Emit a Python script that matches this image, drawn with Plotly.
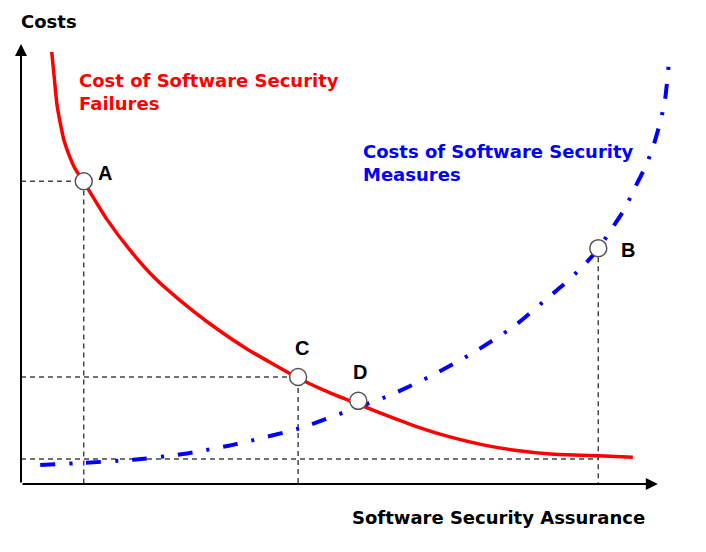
import plotly.graph_objects as go

# Кривая затрат на сбои безопасности ПО (красная)
fail_x = [0.48, 0.52, 0.56, 0.61, 0.67, 0.75, 0.84, 1.00, 1.34, 1.70, 2.09, 2.48, 3.00,
          3.53, 4.33, 4.83, 5.38, 5.66, 6.19, 6.70, 7.22, 7.75, 8.27, 9.02, 9.56]
fail_y = [9.82, 9.23, 8.64, 8.23, 7.82, 7.48, 7.18, 6.82, 6.02, 5.32, 4.68, 4.18, 3.59,
          3.07, 2.41, 2.07, 1.75, 1.59, 1.30, 1.07, 0.89, 0.76, 0.68, 0.64, 0.61]

# Кривая затрат на меры безопасности ПО (синяя)
meas_x = [0.30, 0.97, 1.75, 2.53, 3.31, 4.36, 5.27, 5.77, 6.44, 7.06, 7.69, 8.23,
          8.47, 8.78, 9.02, 9.23, 9.44, 9.59, 9.77, 9.88, 9.98, 10.06, 10.12]
meas_y = [0.43, 0.48, 0.55, 0.68, 0.89, 1.27, 1.75, 2.02, 2.48, 2.98, 3.57, 4.23,
          4.52, 4.95, 5.34, 5.80, 6.27, 6.73, 7.25, 7.68, 8.18, 8.70, 9.52]

# Отмеченные точки
point_names = ['A', 'B', 'C', 'D']
point_x = [0.98, 9.02, 4.33, 5.27]
point_y = [6.88, 5.36, 2.43, 1.89]
floor_level = 0.57

fig = go.Figure()

guide = dict(color='#444444', width=1.5, dash='5px,4px')
pts = dict(zip(point_names, zip(point_x, point_y)))
# пунктирные направляющие
for name in ['A', 'C']:
    gx, gy = pts[name]
    fig.add_trace(go.Scatter(x=[0, gx, gx], y=[gy, gy, 0], mode='lines', line=guide))
bx, by = pts['B']
fig.add_trace(go.Scatter(x=[bx, bx], y=[by, 0], mode='lines', line=guide))
fig.add_trace(go.Scatter(x=[0, bx], y=[floor_level, floor_level], mode='lines', line=guide))

fig.add_trace(go.Scatter(x=fail_x, y=fail_y, mode='lines', line_shape='spline',
                         line=dict(color='#ff0000', width=3.5, smoothing=0.5)))
fig.add_trace(go.Scatter(x=meas_x, y=meas_y, mode='lines', line_shape='spline',
                         line=dict(color='#0000ff', width=4, smoothing=0.6,
                                   dash='15px,14px,3px,14px')))

fig.add_trace(go.Scatter(x=point_x, y=point_y, mode='markers',
                         marker=dict(size=17, color='white', line=dict(color='#555555', width=1.5))))

lab_font = dict(family='Liberation Sans, Arial', size=20, color='black')
label_pos = {'A': (1.31, 7.07), 'B': (9.48, 5.32), 'C': (4.39, 3.09), 'D': (5.30, 2.55)}
annotations = []
for name in point_names:
    lx, ly = label_pos[name]
    annotations.append(dict(x=lx, y=ly, text='<b>%s</b>' % name, showarrow=False, font=lab_font))

txt_font = 'DejaVu Sans'
annotations += [
    dict(x=0.875, y=8.90, text='<b>Cost of Software Security<br>Failures</b>', showarrow=False,
         xanchor='left', align='left', font=dict(family=txt_font, size=18, color='#ff0000')),
    dict(x=5.31, y=7.30, text='<b>Costs of Software Security<br>Measures</b>', showarrow=False,
         xanchor='left', align='left', font=dict(family=txt_font, size=18, color='#0000ff')),
    dict(x=0.44, y=1.05, yref='paper', yanchor='middle', text='<b>Costs</b>', showarrow=False,
         font=dict(family=txt_font, size=18, color='black')),
    dict(x=9.78, y=-0.077, yref='paper', yanchor='middle', xanchor='right',
         text='<b>Software Security Assurance</b>', showarrow=False,
         font=dict(family=txt_font, size=18, color='black')),
    # оси со стрелками
    dict(x=0, y=10, ax=0, ay=0, xref='x', yref='y', axref='x', ayref='y', text='',
         showarrow=True, arrowhead=2, arrowsize=1.2, arrowwidth=2, arrowcolor='black'),
    dict(x=9.95, y=0, ax=0, ay=0, xref='x', yref='y', axref='x', ayref='y', text='',
         showarrow=True, arrowhead=2, arrowsize=1.2, arrowwidth=2, arrowcolor='black'),
]

# страница имеет отступ 8px, поэтому фигура чуть меньше окна
fig.update_layout(width=690, height=536, showlegend=False,
                  margin=dict(l=13, r=5, t=36, b=60),
                  plot_bgcolor='white', paper_bgcolor='white',
                  xaxis=dict(range=[0, 10.5], visible=False),
                  yaxis=dict(range=[0, 10], visible=False),
                  annotations=annotations)

fig.write_html('out.html')
